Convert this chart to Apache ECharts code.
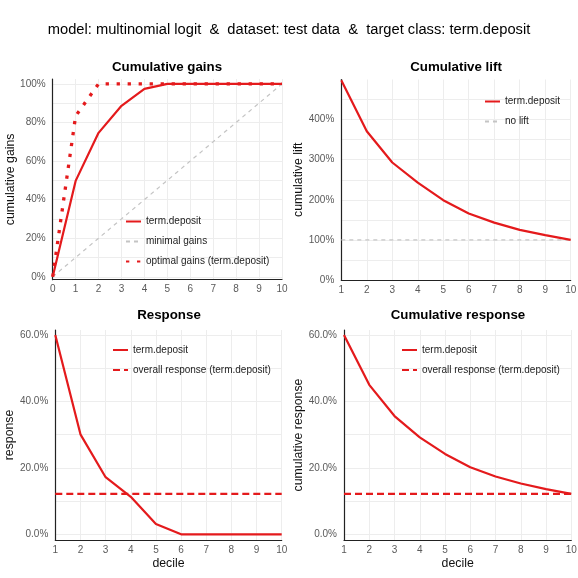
<!DOCTYPE html>
<html>
<head>
<meta charset="utf-8">
<script src="https://cdn.jsdelivr.net/npm/echarts@6/dist/echarts.min.js"></script>
<style>
  html, body { margin: 0; padding: 0; background: #fff; }
  #chart { width: 578px; height: 578px; }
</style>
</head>
<body>
<div id="chart"></div>
<script>
// data
const gainsDeciles = [0, 1, 2, 3, 4, 5, 6, 7, 8, 9, 10];
const gainsModel = [0, 49.7, 74.6, 88.6, 97.4, 100, 100, 100, 100, 100, 100];
const gainsOptimal = [0, 83.3, 100, 100, 100, 100, 100, 100, 100, 100, 100];
const gainsMinimalX = [0, 10];
const gainsMinimal = [0, 100];

const deciles = [1, 2, 3, 4, 5, 6, 7, 8, 9, 10];
const liftModel = [498, 371, 293, 243, 199, 166, 143, 125, 112, 100];
const noLift = 100;
const responseModel = [60, 30.1, 17.2, 11.3, 3.1, 0, 0, 0, 0, 0];
const cumResponseModel = [60, 45, 35.6, 29.2, 24.2, 20.2, 17.4, 15.3, 13.6, 12.2];
const overallResponse = 12.2;

const RED = '#e41a1c';
const GREY = '#c4c4c4';
const FONT = 'Liberation Sans';

// pair up x and y lists for value axes
function pairs(xs, ys) {
    return xs.map((x, i) => [x, ys[i]]);
}

function xAxisFor(grid, min, max, withName) {
    let ticks = [];
    for (let v = min; v <= max; v++) ticks.push(v);
    return {
        type: 'value', gridIndex: grid, min: min, max: max,
        axisLine: { show: true, onZero: false, lineStyle: { color: '#222', width: 1.2 } },
        axisTick: { show: false, customValues: ticks },
        axisLabel: { customValues: ticks, color: '#5a5a5a', fontSize: 10, fontFamily: FONT, margin: 5 },
        splitLine: { show: true, lineStyle: { color: '#ededed', width: 1 } },
        name: withName ? 'decile' : '', nameLocation: 'middle', nameGap: 18,
        nameTextStyle: { color: '#111', fontSize: 12.3, fontFamily: FONT }
    };
}

function yAxisFor(grid, min, max, lines, labels, fmt, name, gap) {
    return {
        type: 'value', gridIndex: grid, min: min, max: max,
        axisLine: { show: true, onZero: false, lineStyle: { color: '#222', width: 1.2 } },
        axisTick: { show: false, customValues: lines },
        axisLabel: { customValues: labels, color: '#5a5a5a', fontSize: 10, fontFamily: FONT, margin: 7, formatter: fmt },
        splitLine: { show: true, lineStyle: { color: '#ededed', width: 1 } },
        name: name, nameLocation: 'middle', nameGap: gap,
        nameTextStyle: { color: '#111', fontSize: 12.3, fontFamily: FONT }
    };
}

function lineSeries(name, idx, data, color, width, dash) {
    return {
        name: name, type: 'line', xAxisIndex: idx, yAxisIndex: idx,
        data: data, symbol: 'none', silent: true,
        lineStyle: { color: color, width: width, type: dash || 'solid', cap: 'butt' },
        itemStyle: { color: color }
    };
}

// legend sits inside the plot, one per panel; symbol hidden so only the line shows
function legendFor(idx, names, left, top) {
    return {
        data: names, left: left, top: top, orient: 'vertical',
        padding: 0, itemGap: 8, itemWidth: 15, itemHeight: 12,
        selectedMode: false,
        itemStyle: { opacity: 0 },
        textStyle: { color: '#222', fontSize: 10, fontFamily: FONT, lineHeight: 12 }
    };
}

function panelTitle(text, x, y) {
    return {
        type: 'text', x: x, y: y, silent: true,
        style: { text: text, textAlign: 'center', textVerticalAlign: 'middle',
                 font: 'bold 13.3px "Liberation Sans"', fill: '#000' }
    };
}

const pct = v => v + '%';
const pct1 = v => v.toFixed(1) + '%';

let chart = echarts.init(document.getElementById('chart'));
let option = {
    animation: false,
    backgroundColor: '#fff',
    title: {
        text: 'model: multinomial logit  &  dataset: test data  &  target class: term.deposit',
        left: 'center', top: 17,
        textStyle: { fontSize: 14.7, fontWeight: 'normal', color: '#000', fontFamily: FONT }
    },
    graphic: [
        panelTitle('Cumulative gains', 167, 67),
        panelTitle('Cumulative lift', 456, 67),
        panelTitle('Response', 169, 315),
        panelTitle('Cumulative response', 458, 315)
    ],
    grid: [
        { left: 52.7, top: 79, width: 229.3, height: 200.7, containLabel: false, outerBoundsMode: 'none' },
        { left: 341.3, top: 79.5, width: 229.4, height: 200.5, containLabel: false, outerBoundsMode: 'none' },
        { left: 55.3, top: 330, width: 226.4, height: 210, containLabel: false, outerBoundsMode: 'none' },
        { left: 344, top: 330, width: 227.3, height: 210, containLabel: false, outerBoundsMode: 'none' }
    ],
    xAxis: [
        xAxisFor(0, 0, 10, false),
        xAxisFor(1, 1, 10, false),
        xAxisFor(2, 1, 10, true),
        xAxisFor(3, 1, 10, true)
    ],
    yAxis: [
        yAxisFor(0, -1.5, 102.5, [0, 10, 20, 30, 40, 50, 60, 70, 80, 90, 100], [0, 20, 40, 60, 80, 100], pct, 'cumulative gains', 33),
        yAxisFor(1, 0, 500, [0, 50, 100, 150, 200, 250, 300, 350, 400, 450], [0, 100, 200, 300, 400], pct, 'cumulative lift', 33),
        yAxisFor(2, -1.7, 61.5, [0, 10, 20, 30, 40, 50, 60], [0, 20, 40, 60], pct1, 'response', 36),
        yAxisFor(3, -1.7, 61.5, [0, 10, 20, 30, 40, 50, 60], [0, 20, 40, 60], pct1, 'cumulative response', 36)
    ],
    legend: [
        legendFor(0, ['term.deposit', 'minimal gains', 'optimal gains (term.deposit)'], 125, 215.5),
        legendFor(1, ['term.deposit ', 'no lift'], 484, 95.5),
        legendFor(2, ['term.deposit  ', 'overall response (term.deposit)'], 112, 344),
        legendFor(3, ['term.deposit   ', 'overall response (term.deposit) '], 401, 344)
    ],
    series: [
        lineSeries('minimal gains', 0, pairs(gainsMinimalX, gainsMinimal), GREY, 1.2, [4, 4]),
        lineSeries('optimal gains (term.deposit)', 0, pairs(gainsDeciles, gainsOptimal), RED, 3.3, [3.3, 7.7]),
        lineSeries('term.deposit', 0, pairs(gainsDeciles, gainsModel), RED, 2.2),

        lineSeries('no lift', 1, [[1, noLift], [10, noLift]], GREY, 1.2, [4, 4]),
        lineSeries('term.deposit ', 1, pairs(deciles, liftModel), RED, 2.2),

        lineSeries('overall response (term.deposit)', 2, [[1, overallResponse], [10, overallResponse]], RED, 2.2, [7, 4]),
        lineSeries('term.deposit  ', 2, pairs(deciles, responseModel), RED, 2.2),

        lineSeries('overall response (term.deposit) ', 3, [[1, overallResponse], [10, overallResponse]], RED, 2.2, [7, 4]),
        lineSeries('term.deposit   ', 3, pairs(deciles, cumResponseModel), RED, 2.2)
    ]
};
chart.setOption(option);
</script>
</body>
</html>
